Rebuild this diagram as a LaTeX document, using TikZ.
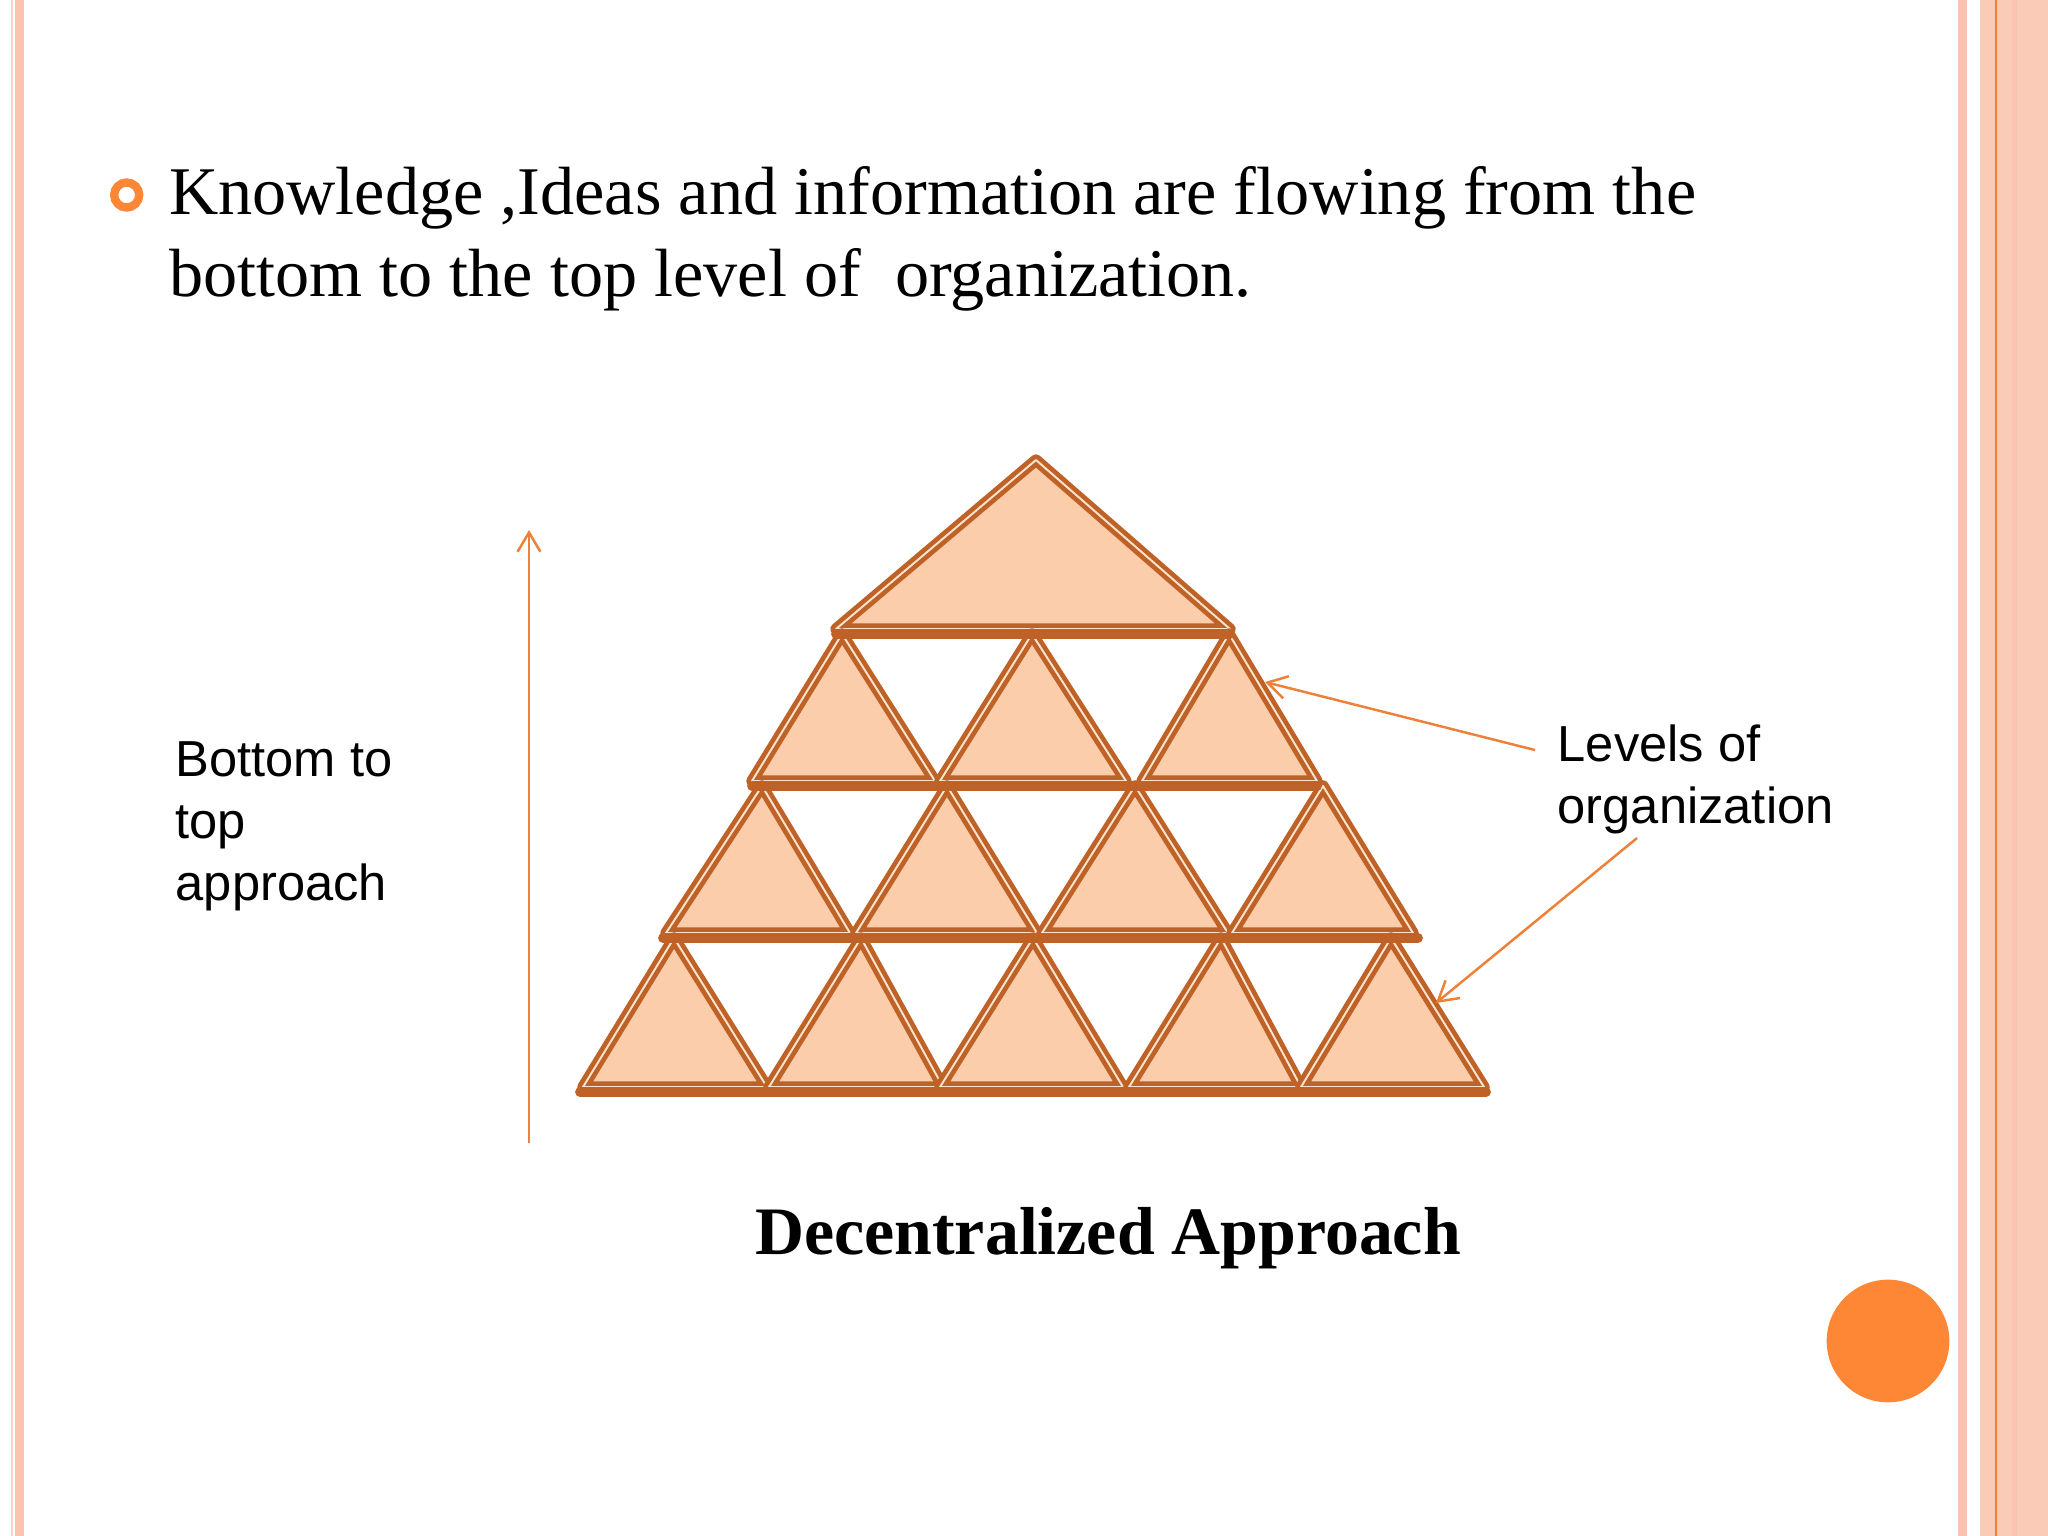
\documentclass[tikz,border=0pt]{standalone}
\usepackage{fontspec}
\setmainfont{Liberation Serif}
\setsansfont{Liberation Sans}
\usetikzlibrary{arrows.meta, positioning}
\definecolor{stripecolor}{RGB}{250,196,176}
\definecolor{bandcolor}{RGB}{250,203,183}
\definecolor{linecolor}{RGB}{238,128,56}
\definecolor{dotcolor}{RGB}{253,135,53}
\definecolor{edgecolor}{RGB}{191,98,39}
\definecolor{fillcolor}{RGB}{252,205,171}
\definecolor{glowcolor}{RGB}{253,228,206}
\tikzstyle{tribox} = [
    draw=edgecolor,
    fill=fillcolor,
    line width=1.35pt,
    double=glowcolor,
    double distance=0.55pt,
    line join=round
]
\tikzstyle{levelbar} = [
    draw=edgecolor,
    line width=2.8pt,
    line cap=round
]
\tikzstyle{pointer} = [
    draw=linecolor,
    line width=0.7pt,
    -{Straight Barb[length=5.5pt, width=6.5pt]}
]
\tikzstyle{bodytext} = [
    anchor=north west,
    inner sep=0pt,
    align=left,
    font=\fontsize{19.4}{23.3}\selectfont
]
\tikzstyle{sidetext} = [
    anchor=north west,
    inner sep=0pt,
    align=left,
    font=\sffamily\fontsize{14.4}{17.6}\selectfont
]
\begin{document}
\begin{tikzpicture}[x=0.01cm, y=-0.01cm]
\useasboundingbox[fill=white] (0,0) rectangle (2048,1536);

% Page borders
\fill[stripecolor!70] (11,0) rectangle (13,1536);
\fill[stripecolor] (15,0) rectangle (24,1536);
\fill[stripecolor] (1958,0) rectangle (1967,1536);
\fill[bandcolor] (1980,0) rectangle (2048,1536);
\fill[stripecolor] (2012,0) rectangle (2017,1536);
\draw[linecolor, line width=0.5pt] (1996,0) -- (1996,1536);

% Bullet and text
\draw[dotcolor, line width=2.37pt] (126.7,195) circle[radius=0.125cm];
\node[bodytext] (intro) at (168.5,166) {Knowledge ,Ideas and information are flowing from the\\bottom to the top level of \ organization.};

% Row 1
\draw[tribox] (1036,460) -- (836,629) -- (1230,629) -- cycle;

% Row 2
\foreach \a/\l/\r in {842/752/935, 1032/940/1126, 1229/1142/1317}
    \draw[tribox] (\a,634) -- (\l,781) -- (\r,781) -- cycle;

% Row 3
\foreach \a/\l/\r in {762/666/850, 947/856/1037, 1135/1042/1228, 1323/1232/1413}
    \draw[tribox] (\a,786) -- (\l,933) -- (\r,933) -- cycle;

% Row 4
\foreach \a/\l/\r in {674/583/767, 861/769/943, 1033/940/1123, 1221/1129/1301, 1391/1301/1484}
    \draw[tribox] (\a,938) -- (\l,1087) -- (\r,1087) -- cycle;

% Level bars
\draw[levelbar] (836,634) -- (1230,634);
\draw[levelbar] (752,786) -- (1317,786);
\draw[levelbar] (663,938) -- (1418,938);
\draw[levelbar] (580,1092) -- (1486,1092);

% Side labels
\node[sidetext] (approach) at (175,741) {Bottom to\\top\\approach};
\node[sidetext] (levels) at (1557,724.5) {Levels of\\organization};

% Bottom to top arrow
\coordinate (flowlow) at (529,1143);
\coordinate (flowtop) at (529,530);
\draw[pointer] (flowlow) -- (flowtop);

% Pointers to the levels
\coordinate (tipA) at (1265,682);
\coordinate (tipB) at (1436,1003);
\draw[pointer] ([xshift=-0.22cm, yshift=-0.255cm]levels.north west) -- (tipA);
\draw[pointer] ([xshift=0.8cm, yshift=-0.03cm]levels.south west) -- (tipB);

% Caption
\node[font=\bfseries\fontsize{19.3}{23}\selectfont, anchor=base, inner sep=0pt] (caption) at (1108,1254) {Decentralized Approach};

% Corner dot
\fill[dotcolor] (1888,1341) circle[radius=0.613cm];

\end{tikzpicture}
\end{document}
